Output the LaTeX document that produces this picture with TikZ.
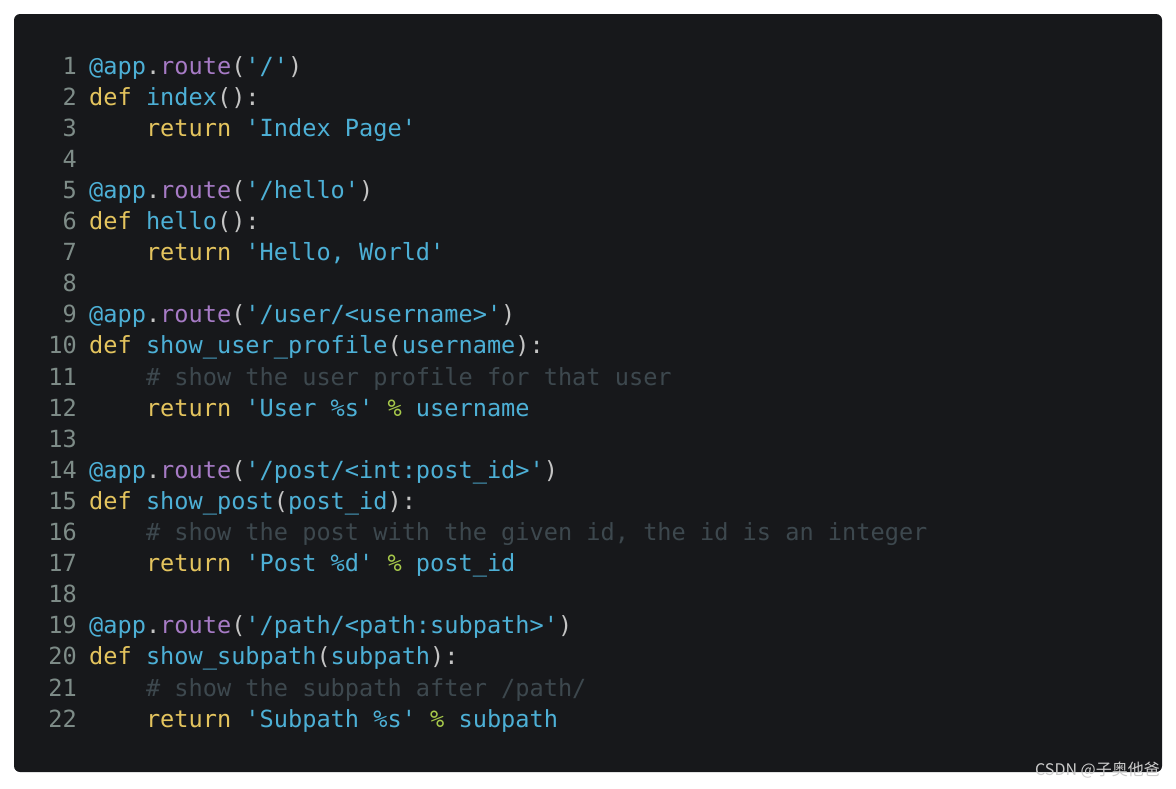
\documentclass[tikz,border=0pt]{standalone}
\usepackage{fontspec}
\setmonofont{DejaVu Sans Mono}
\newfontfamily\cjk{Noto Sans CJK SC}
\definecolor{bgc}{HTML}{17181B}
\definecolor{lnc}{HTML}{7E8C88}
\definecolor{cy}{HTML}{4DB0D6}
\definecolor{pu}{HTML}{A77BC6}
\definecolor{ye}{HTML}{E4C45E}
\definecolor{pa}{HTML}{C4C4C4}
\definecolor{cm}{HTML}{3D484E}
\definecolor{gr}{HTML}{A6C84A}
\newcommand{\C}[1]{\textcolor{cy}{#1}}
\newcommand{\Pu}[1]{\textcolor{pu}{#1}}
\newcommand{\Y}[1]{\textcolor{ye}{#1}}
\newcommand{\Pa}[1]{\textcolor{pa}{#1}}
\newcommand{\Cm}[1]{\textcolor{cm}{#1}}
\newcommand{\G}[1]{\textcolor{gr}{#1}}
\newcommand{\ind}{\hspace*{4\fontcharwd\font`0}}
\begin{document}
\begin{tikzpicture}[x=1pt,y=-1pt,
  ln/.style={anchor=base east,inner sep=0pt,text=lnc,font=\ttfamily\fontsize{23.6}{24}\selectfont},
  code/.style={anchor=base west,inner sep=0pt,font=\ttfamily\fontsize{23.6}{24}\selectfont}]
\useasboundingbox (0,0) rectangle (1176,788);
\fill[white] (0,0) rectangle (1176,788);
\fill[bgc,rounded corners=6pt] (14,14) rectangle (1162,772);
\newcommand{\LL}[3]{\node[ln] (n#1) at (77,{74+31.1*(#1-1)}) {#1};
  \node[code] (c#1) at (89,{74+31.1*(#1-1)}) {#2};}
\LL{1}{\C{@app}\Pa{.}\Pu{route}\Pa{(}\C{'/'}\Pa{)}}{}
\LL{2}{\Y{def} \C{index}\Pa{():}}{}
\LL{3}{\ind\Y{return} \C{'Index Page'}}{}
\LL{4}{}{}
\LL{5}{\C{@app}\Pa{.}\Pu{route}\Pa{(}\C{'/hello'}\Pa{)}}{}
\LL{6}{\Y{def} \C{hello}\Pa{():}}{}
\LL{7}{\ind\Y{return} \C{'Hello, World'}}{}
\LL{8}{}{}
\LL{9}{\C{@app}\Pa{.}\Pu{route}\Pa{(}\C{'/user/<username>'}\Pa{)}}{}
\LL{10}{\Y{def} \C{show\_user\_profile}\Pa{(}\C{username}\Pa{):}}{}
\LL{11}{\ind\Cm{\# show the user profile for that user}}{}
\LL{12}{\ind\Y{return} \C{'User \%s'} \G{\%} \C{username}}{}
\LL{13}{}{}
\LL{14}{\C{@app}\Pa{.}\Pu{route}\Pa{(}\C{'/post/<int:post\_id>'}\Pa{)}}{}
\LL{15}{\Y{def} \C{show\_post}\Pa{(}\C{post\_id}\Pa{):}}{}
\LL{16}{\ind\Cm{\# show the post with the given id, the id is an integer}}{}
\LL{17}{\ind\Y{return} \C{'Post \%d'} \G{\%} \C{post\_id}}{}
\LL{18}{}{}
\LL{19}{\C{@app}\Pa{.}\Pu{route}\Pa{(}\C{'/path/<path:subpath>'}\Pa{)}}{}
\LL{20}{\Y{def} \C{show\_subpath}\Pa{(}\C{subpath}\Pa{):}}{}
\LL{21}{\ind\Cm{\# show the subpath after /path/}}{}
\LL{22}{\ind\Y{return} \C{'Subpath \%s'} \G{\%} \C{subpath}}{}
\node[anchor=base east,inner sep=0pt,text=white!60!gray,font=\cjk\fontsize{16}{18}\selectfont] (wm) at (1160,775) {CSDN @子奥他爸};
\end{tikzpicture}
\end{document}
